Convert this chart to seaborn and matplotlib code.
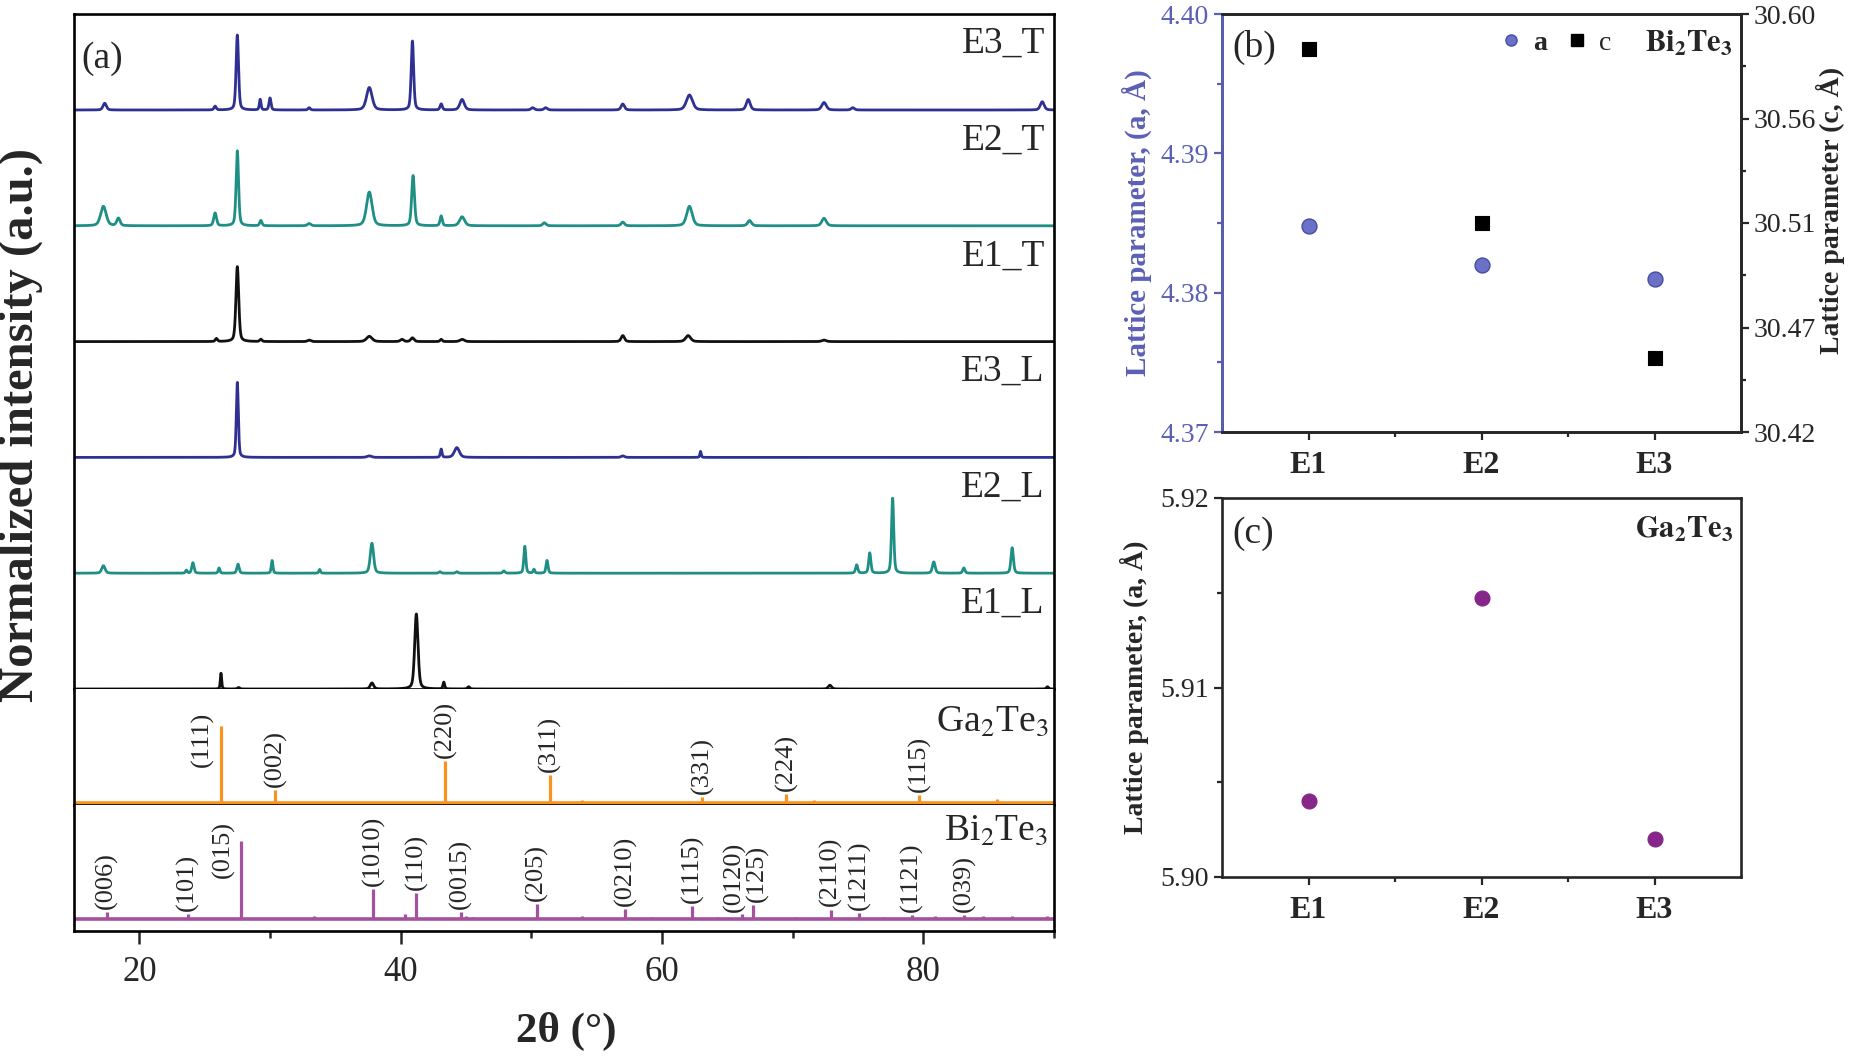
import numpy as np
import pandas as pd
import matplotlib
matplotlib.use("Agg")
from matplotlib import pyplot as plt
from matplotlib.ticker import MultipleLocator, FixedLocator, FixedFormatter, FormatStrFormatter
from matplotlib.lines import Line2D
import seaborn as sns

# ---------------- panel (a): peak lists ----------------
# position (2theta), normalised height, fwhm (deg)
e3t_pos = [17.35, 25.8, 27.5, 29.25, 30.0, 33.0, 37.6, 40.9, 43.1, 44.7, 50.1, 51.1, 57.0, 62.1, 66.6, 72.4, 74.6, 89.1]
e3t_int = [0.09, 0.05, 1.0, 0.14, 0.16, 0.03, 0.30, 0.92, 0.08, 0.14, 0.03, 0.03, 0.08, 0.20, 0.14, 0.10, 0.03, 0.11]
e3t_wid = [0.3, 0.2, 0.22, 0.15, 0.18, 0.2, 0.5, 0.22, 0.2, 0.4, 0.3, 0.3, 0.3, 0.55, 0.35, 0.4, 0.3, 0.35]

e2t_pos = [17.25, 18.4, 25.8, 27.5, 29.3, 33.0, 37.6, 40.95, 43.1, 44.7, 51.0, 57.0, 62.1, 66.7, 72.4]
e2t_int = [0.26, 0.10, 0.17, 1.0, 0.07, 0.03, 0.45, 0.67, 0.13, 0.12, 0.04, 0.05, 0.26, 0.07, 0.10]
e2t_wid = [0.5, 0.3, 0.25, 0.22, 0.2, 0.3, 0.5, 0.25, 0.2, 0.45, 0.3, 0.3, 0.5, 0.35, 0.4]

e1t_pos = [25.9, 27.5, 29.3, 33.0, 37.6, 40.1, 40.9, 43.1, 44.7, 57.0, 62.0, 72.4]
e1t_int = [0.04, 1.0, 0.03, 0.02, 0.07, 0.03, 0.05, 0.03, 0.03, 0.08, 0.08, 0.02]
e1t_wid = [0.2, 0.25, 0.2, 0.3, 0.5, 0.3, 0.3, 0.2, 0.4, 0.3, 0.45, 0.4]

e3l_pos = [27.5, 37.6, 43.1, 44.3, 57.0, 62.95]
e3l_int = [1.0, 0.02, 0.11, 0.13, 0.02, 0.08]
e3l_wid = [0.18, 0.4, 0.15, 0.45, 0.3, 0.12]

e2l_pos = [17.25, 23.6, 24.1, 26.1, 27.55, 30.16, 33.8, 37.8, 43.0, 44.3, 47.9, 49.5, 50.2, 51.2, 74.9, 75.9, 77.65, 80.8, 83.1, 86.8]
e2l_int = [0.10, 0.04, 0.14, 0.07, 0.12, 0.17, 0.05, 0.40, 0.02, 0.02, 0.03, 0.36, 0.05, 0.17, 0.11, 0.27, 1.0, 0.15, 0.07, 0.34]
e2l_wid = [0.3, 0.15, 0.2, 0.15, 0.2, 0.15, 0.15, 0.3, 0.2, 0.2, 0.2, 0.18, 0.15, 0.18, 0.2, 0.2, 0.2, 0.25, 0.2, 0.22]

e1l_pos = [26.25, 27.6, 37.8, 41.2, 43.3, 45.2, 72.85, 89.5]
e1l_int = [0.21, 0.02, 0.08, 1.0, 0.09, 0.03, 0.05, 0.03]
e1l_wid = [0.12, 0.2, 0.3, 0.3, 0.15, 0.2, 0.3, 0.2]

sample_names = ["E1_L", "E2_L", "E3_L", "E1_T", "E2_T", "E3_T"]

# reference sticks (relative intensity, %)
ga_pos = [26.26, 30.4, 43.4, 51.4, 53.9, 63.07, 69.5, 71.6, 79.7, 85.6]
ga_int = [100, 17, 55, 36, 4, 8, 12, 4, 10, 5]
ga_hkl = ["(111)", "(002)", "(220)", "(311)", "", "(331)", "(224)", "", "(115)", ""]

bi_pos = [17.5, 23.7, 27.8, 33.4, 37.9, 40.3, 41.2, 44.6, 45.0, 45.5, 50.4, 53.9, 57.2, 59.2,
          62.3, 64.2, 66.1, 67.0, 70.2, 72.9, 75.1, 77.0, 79.1, 80.9, 83.1, 84.6, 86.8, 89.5]
bi_int = [9, 6, 100, 4, 38, 6, 33, 9, 4, 3, 19, 4, 13, 3, 17, 3, 6, 18, 3, 12, 8, 3, 5, 4, 5, 4, 4, 4]
bi_hkl = ["(006)", "(101)", "(015)", "", "(1010)", "", "(110)", "(0015)", "", "", "(205)", "", "(0210)", "",
          "(1115)", "", "(0120)", "(125)", "", "(2110)", "(1211)", "", "(1121)", "", "(039)", "", "", ""]

# ---------------- panels (b), (c): lattice parameters ----------------
samples = ["E1", "E2", "E3"]
bi_a = [4.3848, 4.3820, 4.3810]
bi_c = [30.585, 30.510, 30.452]
ga_a = [5.9040, 5.9147, 5.9020]
c_tick_labels = ["30.42", "30.47", "30.51", "30.56", "30.60"]

# ---------------- style ----------------
sns.set_theme(style="ticks")
plt.rcParams["font.family"] = ["Liberation Serif", "DejaVu Serif"]
plt.rcParams["mathtext.fontset"] = "stix"
plt.rcParams["axes.linewidth"] = 1.9

col = {"E1_L": "#111111", "E2_L": "#1f8f86", "E3_L": "#2e3192",
       "E1_T": "#111111", "E2_T": "#1f8f86", "E3_T": "#2e3192"}
ORANGE = "#f7931e"
PURPLE = "#a352a0"
BLUE_AX = "#5b60b5"

W, H = 1850, 1056
fig = plt.figure(figsize=(W / 100, H / 100), dpi=100)


def box(x0, y0, x1, y1):
    # pixel box (top-left origin) -> figure fraction rect
    return [x0 / W, 1 - y1 / H, (x1 - x0) / W, (y1 - y0) / H]


def profile(x, pos, inten, wid):
    y = np.zeros_like(x)
    for p, h, w in zip(pos, inten, wid):
        g = np.exp(-4 * np.log(2) * ((x - p) / w) ** 2)
        l = 1 / (1 + 4 * ((x - p) / w) ** 2)
        y += h * (0.6 * g + 0.4 * l)
    return y / y.max()


# ---------------- panel (a) ----------------
ax_top = fig.add_axes(box(74, 14, 1054, 689))
ax_ga = fig.add_axes(box(74, 689, 1054, 805))
ax_bi = fig.add_axes(box(74, 805, 1054, 931))

tt = np.linspace(15, 90, 6000)
peaks = {
    "E1_L": (e1l_pos, e1l_int, e1l_wid),
    "E2_L": (e2l_pos, e2l_int, e2l_wid),
    "E3_L": (e3l_pos, e3l_int, e3l_wid),
    "E1_T": (e1t_pos, e1t_int, e1t_wid),
    "E2_T": (e2t_pos, e2t_int, e2t_wid),
    "E3_T": (e3t_pos, e3t_int, e3t_wid),
}
step = 1.544
frames = []
for i, name in enumerate(sample_names):
    frames.append(pd.DataFrame({"tt": tt, "y": profile(tt, *peaks[name]) + i * step, "sample": name}))
df = pd.concat(frames, ignore_index=True)

sns.lineplot(data=df, x="tt", y="y", hue="sample", palette=col, estimator=None, sort=False,
             legend=False, lw=2.0, ax=ax_top)
ax_top.set_xlim(15, 90)
ax_top.set_ylim(0, 9.0)
for i, name in enumerate(sample_names):
    ax_top.text(89.3, min(i * step + 1.14, 8.61), name, ha="right", va="center", fontsize=27)
ax_top.text(15.6, 8.4, "(a)", ha="left", va="center", fontsize=27)

# reference sticks
ax_ga.vlines(ga_pos, 0, ga_int, color=ORANGE, lw=2.3)
ax_ga.axhline(0, color=ORANGE, lw=2.6)
ax_ga.set_xlim(15, 90)
ax_ga.set_ylim(-2.6, 148)
ax_bi.vlines(bi_pos, 0, bi_int, color=PURPLE, lw=2.3)
ax_bi.axhline(0, color=PURPLE, lw=2.6)
ax_bi.set_xlim(15, 90)
ax_bi.set_ylim(-15.4, 146)

nudge = {"(111)": (-1.45, 47), "(015)": (-1.4, 52), "(0120)": (-0.6, 9), "(125)": (0.3, 22)}
for ax, pos, inten, hkl in [(ax_ga, ga_pos, ga_int, ga_hkl), (ax_bi, bi_pos, bi_int, bi_hkl)]:
    for p, h, lab in zip(pos, inten, hkl):
        if not lab:
            continue
        dx, yb = nudge.get(lab, (0, h + 4))
        ax.text(p + dx, yb, lab, rotation=90, ha="center", va="bottom", fontsize=19)

ax_ga.text(89.6, 128, r"Ga$_2$Te$_3$", ha="right", va="top", fontsize=27)
ax_bi.text(89.6, 135, r"Bi$_2$Te$_3$", ha="right", va="top", fontsize=27)

for ax in (ax_top, ax_ga, ax_bi):
    ax.set_yticks([])
    ax.set_xlabel("")
    ax.set_ylabel("")
    for s in ax.spines.values():
        s.set_visible(True)
        s.set_color("black")
ax_top.tick_params(axis="x", bottom=False, labelbottom=False)
ax_ga.tick_params(axis="x", bottom=False, labelbottom=False)
ax_ga.spines["top"].set_visible(False)
ax_bi.spines["top"].set_visible(False)
ax_bi.xaxis.set_major_locator(MultipleLocator(20))
ax_bi.xaxis.set_minor_locator(MultipleLocator(10))
ax_bi.tick_params(axis="x", which="major", direction="out", length=9, width=1.8, labelsize=25, pad=9)
ax_bi.tick_params(axis="x", which="minor", direction="out", length=5, width=1.8)

fig.text(21 / W, 1 - 425 / H, "Normalized intensity (a.u.)", rotation=90, ha="center", va="center",
         fontsize=35, fontweight="bold")
fig.text(566 / W, 1 - 1031 / H, "2θ (°)", ha="center", va="center", fontsize=31, fontweight="bold")

# ---------------- panel (b) ----------------
ax_b = fig.add_axes(box(1222, 14, 1741, 432))
ax_b2 = ax_b.twinx()
dfb = pd.DataFrame({"sample": samples, "a": bi_a, "c": bi_c})
sns.scatterplot(data=dfb, x="sample", y="a", ax=ax_b, s=115, color="#6a71c6", edgecolor="#474da0",
                linewidth=1.0, zorder=3)
sns.scatterplot(data=dfb, x="sample", y="c", ax=ax_b2, s=100, marker="s", color="black",
                edgecolor="black", zorder=3)
ax_b.set_xlim(-0.5, 2.5)
ax_b.set_ylim(4.37, 4.40)
ax_b.yaxis.set_major_locator(MultipleLocator(0.01))
ax_b.yaxis.set_minor_locator(MultipleLocator(0.005))
ax_b.yaxis.set_major_formatter(FormatStrFormatter("%.2f"))
ax_b2.set_ylim(30.42, 30.60)
ax_b2.yaxis.set_major_locator(FixedLocator(np.linspace(30.42, 30.60, 5)))
ax_b2.yaxis.set_major_formatter(FixedFormatter(c_tick_labels))
ax_b2.yaxis.set_minor_locator(FixedLocator(np.linspace(30.4425, 30.5775, 4)))
ax_b.set_xlabel("")
ax_b.set_ylabel("Lattice parameter, (a, Å)", color=BLUE_AX, fontsize=21, fontweight="bold", labelpad=6)
ax_b2.set_ylabel("")
fig.text(1830 / W, 1 - 210 / H, "Lattice parameter (c, Å)", rotation=90, ha="center", va="center",
         fontsize=20, fontweight="bold")
ax_b.tick_params(axis="y", which="both", colors=BLUE_AX, labelsize=20, direction="out", width=1.6)
ax_b.tick_params(axis="y", which="major", length=6)
ax_b.tick_params(axis="y", which="minor", length=3.5)
ax_b2.tick_params(axis="y", which="major", labelsize=20, direction="out", length=6, width=1.6, pad=3)
ax_b2.tick_params(axis="y", which="minor", direction="out", length=3.5, width=1.6)
ax_b.text(0.02, 0.92, "(b)", transform=ax_b.transAxes, fontsize=27, va="center", ha="left")
ax_b.text(0.985, 0.93, r"$\mathbf{Bi_2Te_3}$", transform=ax_b.transAxes, fontsize=22,
          va="center", ha="right")
handles = [Line2D([], [], ls="", marker="o", ms=8, mfc="#6a71c6", mec="#474da0"),
           Line2D([], [], ls="", marker="s", ms=8, mfc="black", mec="black")]
leg = ax_b.legend(handles, ["a", "c"], ncol=2, frameon=False, loc="center",
                  bbox_to_anchor=(0.64, 0.93), fontsize=20, handletextpad=0.3, columnspacing=0.6,
                  handlelength=1.0)
leg.get_texts()[0].set_fontweight("bold")

# ---------------- panel (c) ----------------
ax_c = fig.add_axes(box(1222, 498, 1741, 877))
dfc = pd.DataFrame({"sample": samples, "a": ga_a})
sns.scatterplot(data=dfc, x="sample", y="a", ax=ax_c, s=115, color="#86258a", edgecolor="#86258a",
                zorder=3)
ax_c.set_xlim(-0.5, 2.5)
ax_c.set_ylim(5.90, 5.92)
ax_c.yaxis.set_major_locator(MultipleLocator(0.01))
ax_c.yaxis.set_minor_locator(MultipleLocator(0.005))
ax_c.yaxis.set_major_formatter(FormatStrFormatter("%.2f"))
ax_c.set_xlabel("")
ax_c.set_ylabel("Lattice parameter, (a, Å)", fontsize=20, fontweight="bold", labelpad=8)
ax_c.tick_params(axis="y", which="major", labelsize=20, direction="out", length=6, width=1.6)
ax_c.tick_params(axis="y", which="minor", direction="out", length=3.5, width=1.6)
ax_c.text(0.02, 0.905, "(c)", transform=ax_c.transAxes, fontsize=27, va="center", ha="left")
ax_c.text(0.985, 0.915, r"$\mathbf{Ga_2Te_3}$", transform=ax_c.transAxes, fontsize=22,
          va="center", ha="right")

for ax in (ax_b, ax_c):
    ax.xaxis.set_minor_locator(FixedLocator([0.5, 1.5]))
    ax.tick_params(axis="x", which="major", direction="out", length=6, width=1.6, labelsize=23, pad=8)
    ax.tick_params(axis="x", which="minor", direction="out", length=3.5, width=1.6)
    for t in ax.get_xticklabels():
        t.set_fontweight("bold")
    for s in ax.spines.values():
        s.set_linewidth(1.9)
for s in ax_b2.spines.values():
    s.set_linewidth(1.9)
ax_b2.spines["left"].set_color(BLUE_AX)

fig.savefig("out.png", dpi=100, facecolor="white")
